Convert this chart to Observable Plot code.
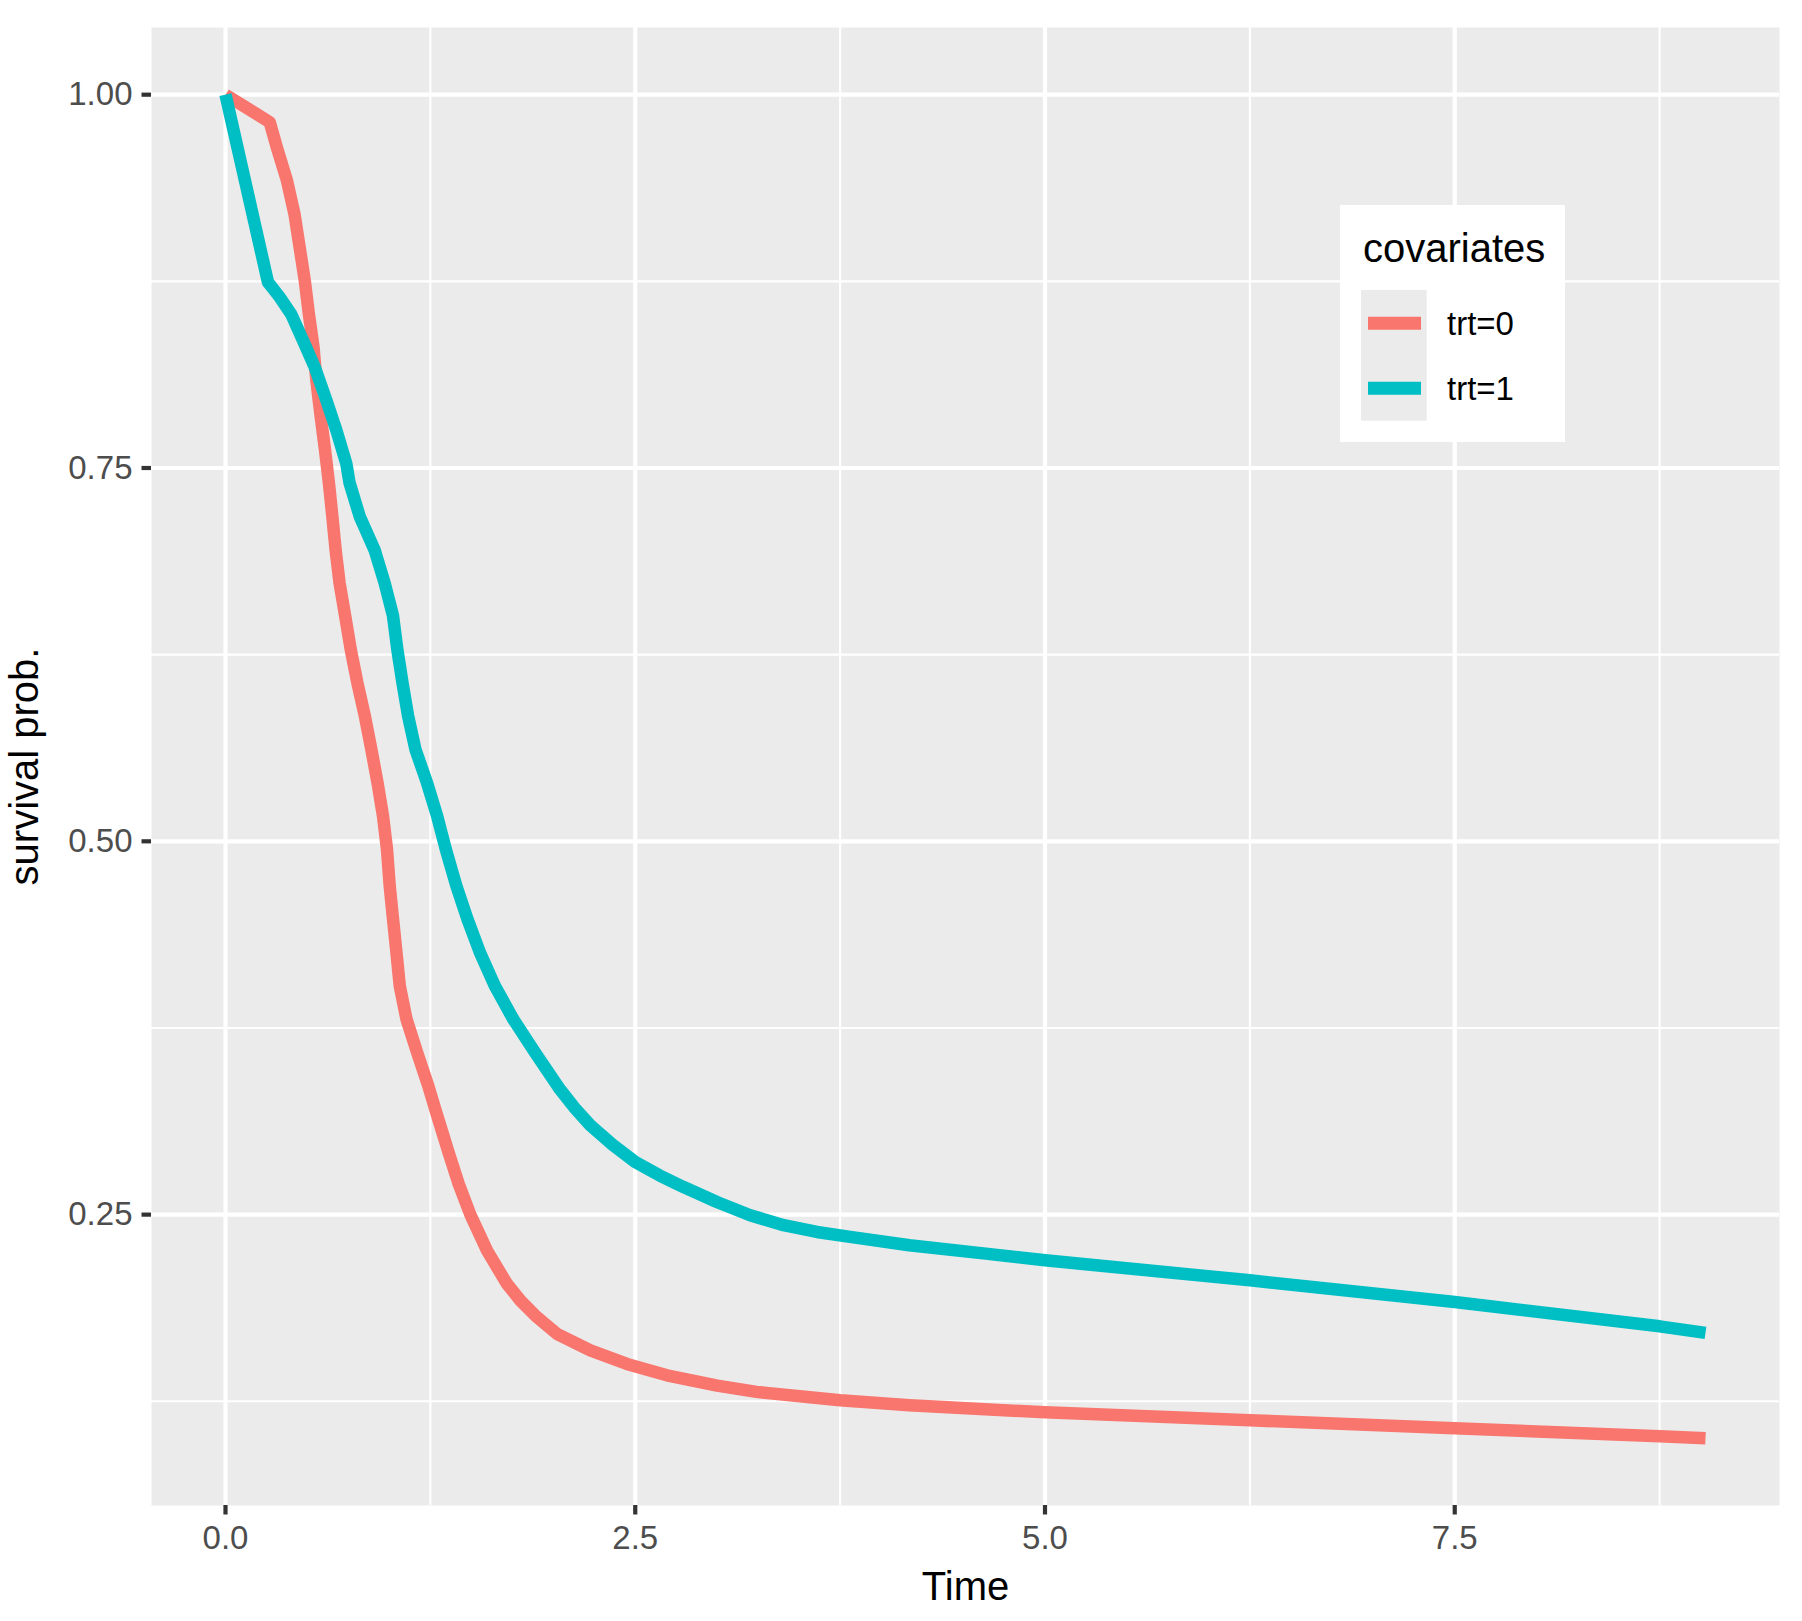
<!DOCTYPE html>
<html>
<head>
<meta charset="utf-8">
<script src="https://cdn.jsdelivr.net/npm/d3@7"></script>
<script src="https://cdn.jsdelivr.net/npm/@observablehq/plot@0.6"></script>
<style>
  html, body { margin: 0; padding: 0; background: #ffffff; }
  #chart { position: relative; width: 1802px; height: 1621px; }
</style>
</head>
<body>
<div id="chart"></div>
<script>
// ---- data ----
const seriesNames = ["trt=0", "trt=1"];
const seriesColors = ["#F8766D", "#00BFC4"];

const trt0Time = [0, 0.27, 0.313, 0.375, 0.421, 0.452, 0.483, 0.509, 0.537, 0.554, 0.578, 0.605, 0.631, 0.652, 0.672, 0.696, 0.73, 0.765, 0.805, 0.85, 0.89, 0.928, 0.961, 0.985, 1.002, 1.022, 1.043, 1.063, 1.104, 1.169, 1.236, 1.287, 1.36, 1.423, 1.494, 1.596, 1.717, 1.799, 1.9, 2.022, 2.226, 2.449, 2.693, 3.0, 3.239, 3.75, 4.172, 5.0, 6.25, 7.5, 8.75, 9.03];
const trt0Surv = [1.0, 0.9815, 0.9648, 0.9425, 0.92, 0.898, 0.876, 0.853, 0.831, 0.809, 0.787, 0.764, 0.74, 0.7175, 0.695, 0.673, 0.651, 0.628, 0.606, 0.584, 0.5615, 0.539, 0.517, 0.495, 0.47, 0.448, 0.4256, 0.4033, 0.381, 0.3587, 0.3366, 0.318, 0.292, 0.2705, 0.25, 0.2259, 0.2037, 0.1925, 0.1814, 0.1702, 0.1591, 0.15, 0.1424, 0.1355, 0.1313, 0.1257, 0.1223, 0.1176, 0.1123, 0.1069, 0.1016, 0.1002];

const trt1Time = [0, 0.259, 0.33, 0.401, 0.472, 0.544, 0.615, 0.676, 0.737, 0.757, 0.819, 0.91, 0.971, 1.022, 1.049, 1.08, 1.114, 1.159, 1.23, 1.291, 1.344, 1.409, 1.476, 1.552, 1.643, 1.755, 1.888, 2.04, 2.13, 2.224, 2.36, 2.5, 2.65, 2.795, 2.998, 3.201, 3.405, 3.608, 3.811, 4.172, 4.638, 5.0, 6.25, 7.5, 8.75, 9.03];
const trt1Surv = [1.0, 0.8745, 0.8645, 0.853, 0.8356, 0.8177, 0.7955, 0.7754, 0.753, 0.74, 0.7175, 0.695, 0.673, 0.651, 0.628, 0.606, 0.584, 0.5615, 0.539, 0.517, 0.4947, 0.47, 0.448, 0.4256, 0.4033, 0.381, 0.3587, 0.334, 0.3215, 0.31, 0.297, 0.2852, 0.2762, 0.2685, 0.2585, 0.2496, 0.2429, 0.2384, 0.2351, 0.2295, 0.2239, 0.2194, 0.206, 0.1915, 0.1752, 0.1708];

const xTicks = [0, 2.5, 5, 7.5];
const xMinor = [1.25, 3.75, 6.25, 8.75];
const yTicks = [0.25, 0.5, 0.75, 1.0];
const yMinor = [0.125, 0.375, 0.625, 0.875];

const xTitle = "Time";
const yTitle = "survival prob.";
const legendTitle = "covariates";

// ---- build table ----
const rows = [];
trt0Time.forEach((t, i) => rows.push({time: t, surv: trt0Surv[i], group: seriesNames[0]}));
trt1Time.forEach((t, i) => rows.push({time: t, surv: trt1Surv[i], group: seriesNames[1]}));

const FONT = "'Liberation Sans', Arial, Helvetica, sans-serif";
const xMax = d3.max(rows, d => d.time), xMin = 0;
const yMax = d3.max(rows, d => d.surv), yMin = d3.min(rows, d => d.surv);
const xPad = (xMax - xMin) * 0.05, yPad = (yMax - yMin) * 0.05;

const plot = Plot.plot({
  width: 1802,
  height: 1621,
  marginLeft: 151,
  marginRight: 23,
  marginTop: 27,
  marginBottom: 116,
  style: {fontFamily: FONT, fontSize: "33px", background: "#ffffff", overflow: "visible"},
  x: {domain: [xMin - xPad, xMax + xPad]},
  y: {domain: [yMin - yPad, yMax + yPad]},
  color: {domain: seriesNames, range: seriesColors},
  marks: [
    Plot.frame({fill: "#EBEBEB", stroke: null}),
    Plot.ruleX(xMinor, {stroke: "#ffffff", strokeWidth: 2.1}),
    Plot.ruleY(yMinor, {stroke: "#ffffff", strokeWidth: 2.1}),
    Plot.ruleX(xTicks, {stroke: "#ffffff", strokeWidth: 4.2}),
    Plot.ruleY(yTicks, {stroke: "#ffffff", strokeWidth: 4.2}),
    Plot.line(rows, {x: "time", y: "surv", z: "group", stroke: "group", strokeWidth: 12.5,
      strokeLinejoin: "round", strokeLinecap: "butt"}),
    Plot.axisX(xTicks, {tickFormat: d3.format(".1f"), tickSize: 9.5, tickPadding: 11,
      stroke: "#333333", fill: "#4D4D4D", strokeWidth: 4.2, fontSize: 33, label: null}),
    Plot.axisY(yTicks, {tickFormat: d3.format(".2f"), tickSize: 9.5, tickPadding: 9.5,
      stroke: "#333333", fill: "#4D4D4D", strokeWidth: 4.2, fontSize: 33, label: null}),
    Plot.text([xTitle], {frameAnchor: "bottom", dy: 82, text: d => d, fontSize: 40,
      fill: "#000000", lineAnchor: "middle", textAnchor: "middle"}),
    Plot.text([yTitle], {frameAnchor: "left", dx: -126, rotate: -90, text: d => d, fontSize: 40,
      fill: "#000000", lineAnchor: "middle", textAnchor: "middle"})
  ]
});

// ---- legend (ggplot-style, inside panel) ----
const svg = d3.select(plot);
const lg = svg.append("g").attr("font-family", FONT).attr("text-anchor", "start");
lg.append("rect").attr("x", 1340).attr("y", 205).attr("width", 225).attr("height", 237).attr("fill", "#ffffff");
lg.append("text").attr("x", 1363).attr("y", 262).attr("font-size", 40).attr("fill", "#000").text(legendTitle);
lg.append("rect").attr("x", 1361).attr("y", 290).attr("width", 65.7).attr("height", 130.7).attr("fill", "#EBEBEB");
seriesNames.forEach((name, i) => {
  const cy = 323.3 + i * 65;
  lg.append("line").attr("x1", 1368).attr("x2", 1421).attr("y1", cy).attr("y2", cy)
    .attr("stroke", seriesColors[i]).attr("stroke-width", 13);
  lg.append("text").attr("x", 1447).attr("y", cy + 11.5).attr("font-size", 33).attr("fill", "#000").text(name);
});

document.getElementById("chart").appendChild(plot);
</script>
</body>
</html>
